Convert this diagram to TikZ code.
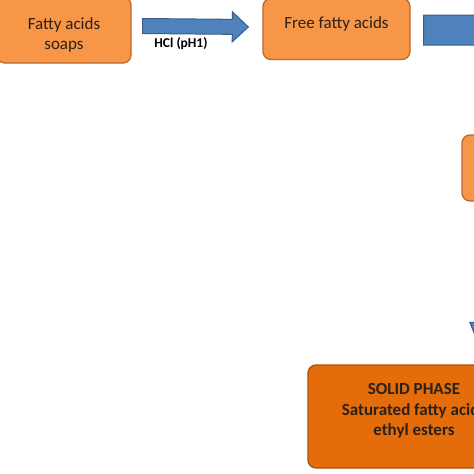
\documentclass[tikz,border=0pt]{standalone}
\usepackage{fontspec}
\setmainfont{Carlito}
\usepackage{tikz}
\usetikzlibrary{positioning,calc}
\usepackage{xcolor}
\definecolor{boxfill}{HTML}{F79646}
\definecolor{boxedge}{HTML}{B8692E}
\definecolor{solidfill}{HTML}{E46C0A}
\definecolor{solidedge}{HTML}{A5520C}
\definecolor{arrowfill}{HTML}{4F81BD}
\definecolor{arrowedge}{HTML}{385D8A}
\definecolor{boxtext}{HTML}{2B2118}

% block arrow: from, to, body half width, head half width, head length
\newcommand{\blockarrow}[5]{%
  \path[flowarrow] let \p1=(#1), \p2=(#2),
      \n1={atan2(\y2-\y1,\x2-\x1)}, \n2={veclen(\x2-\x1,\y2-\y1)} in
    [shift={(\p1)}, rotate=\n1]
    (0,#3) -- (\n2-#5,#3) -- (\n2-#5,#4) -- (\n2,0)
    -- (\n2-#5,-#4) -- (\n2-#5,-#3) -- (0,-#3) -- cycle;}

\begin{document}
\begin{tikzpicture}[x=1pt, y=-1pt,
    flowbox/.style={draw=boxedge, line width=1.3pt, fill=boxfill,
      rounded corners=8pt, align=center, text=boxtext,
      font=\fontsize{17}{20}\selectfont, inner sep=2pt},
    solidbox/.style={flowbox, draw=solidedge, fill=solidfill,
      font=\fontsize{17}{20.5}\selectfont\bfseries},
    flowarrow/.style={draw=arrowedge, line width=1pt, fill=arrowfill},
    steplabel/.style={font=\fontsize{13.5}{15}\selectfont\bfseries, text=black}]
    \useasboundingbox (0,0) rectangle (474,474);
    \clip (0,0) rectangle (474,474);

    % Top row
    \node[flowbox, minimum width=134pt, minimum height=66pt] (soaps) at (64,30)
        {\rule{0pt}{22pt}Fatty acids\\soaps};
    \node[flowbox, minimum width=147pt, minimum height=61pt] (ffa) at (336.5,29)
        {\rule{0pt}{24pt}Free fatty acids\\\strut};
    \coordinate (ffaout) at (560,30);

    % Right column
    \node[flowbox, minimum width=140pt, minimum height=66pt] (right) at (532,168) {};
    \coordinate (rightout) at ($(right.south west)+(22,14)$);

    % Bottom
    \node[solidbox, minimum width=212pt, minimum height=103pt] (solid) at (414,416.5)
        {SOLID PHASE\\Saturated fatty acids\\ethyl esters\rule[-14pt]{0pt}{14pt}};

    % Arrows
    \blockarrow{$(soaps.east)+(11,-4)$}{$(ffa.west)+(-14,-2)$}{7.5}{15}{16}
    \node[steplabel] (hcl) at (181,44) {HCl (pH1)};
    \blockarrow{$(ffa.east)+(13,1)$}{ffaout}{15}{25}{30}
    \blockarrow{rightout}{$(solid.north)+(70,-7)$}{7}{14}{35}
\end{tikzpicture}
\end{document}
